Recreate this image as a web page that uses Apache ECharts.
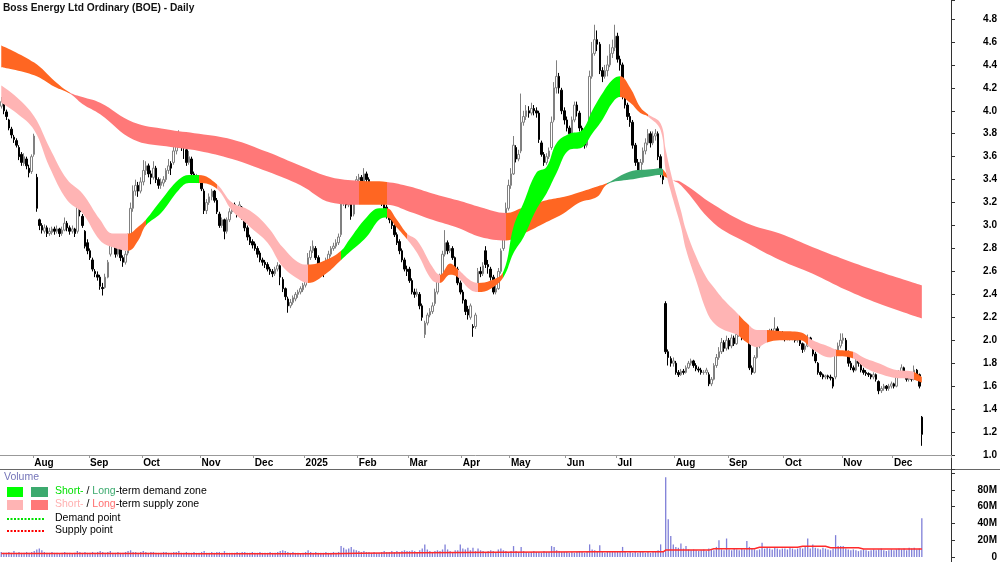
<!DOCTYPE html>
<html>
<head>
<meta charset="utf-8">
<script src="https://cdn.jsdelivr.net/npm/echarts@6/dist/echarts.min.js"></script>
<style>
html, body { margin: 0; padding: 0; background: #fff; }
#chart { width: 1000px; height: 562px; }
</style>
</head>
<body>
<div id="chart"></div>
<script>
// trading days (weekdays less ASX holidays), with some empty slots after the last bar
var holidays = ['2024-12-25', '2024-12-26', '2025-01-01', '2025-01-27', '2025-04-18', '2025-04-21',
    '2025-04-25', '2025-06-09', '2025-12-25', '2025-12-26', '2026-01-01'];
var slotCount = 375;
var dates = [];
(function () {
    var d = new Date(Date.UTC(2024, 6, 15));
    while (dates.length < slotCount) {
        var s = d.toISOString().slice(0, 10);
        var wd = d.getUTCDay();
        if (wd !== 0 && wd !== 6 && holidays.indexOf(s) < 0) dates.push(s);
        d.setUTCDate(d.getUTCDate() + 1);
    }
})();

var monthNames = ['Jan', 'Feb', 'Mar', 'Apr', 'May', 'Jun', 'Jul', 'Aug', 'Sep', 'Oct', 'Nov', 'Dec'];

// daily candles: [open, close, low, high]
var ohlc = [
    // Jul 2024
    [4.04,4.08,4.02,4.12],[4.06,4.00,3.97,4.07],[3.99,3.95,3.92,4.01],[3.92,3.85,3.83,3.93],[3.84,3.79,3.76,3.86],
    [3.77,3.75,3.72,3.79],[3.74,3.70,3.68,3.76],[3.68,3.60,3.57,3.70],[3.62,3.55,3.52,3.64],[3.54,3.60,3.52,3.63],
    [3.58,3.52,3.49,3.60],[3.50,3.46,3.42,3.53],[3.47,3.60,3.45,3.62],
    // Aug
    [3.62,3.78,3.60,3.80],[3.42,3.15,3.12,3.45],[3.05,3.00,2.96,3.06],[3.00,2.96,2.93,3.02],[2.95,2.98,2.93,3.01],
    [2.98,2.93,2.90,3.00],[2.93,2.95,2.91,2.98],[2.94,2.97,2.92,2.99],[2.97,2.95,2.92,2.99],[2.95,2.97,2.93,3.00],
    [2.97,2.93,2.90,2.98],[2.93,2.96,2.91,2.99],[2.96,3.02,2.95,3.07],[3.02,2.98,2.95,3.04],[2.98,2.95,2.92,3.00],
    [2.95,2.97,2.93,3.00],[2.97,2.93,2.90,2.98],[2.95,3.25,2.93,3.30],[3.20,3.12,3.08,3.25],[3.08,3.00,2.98,3.10],
    [2.95,2.82,2.80,2.96],[2.85,2.78,2.75,2.88],
    // Sep
    [2.78,2.72,2.70,2.80],[2.70,2.62,2.60,2.72],[2.60,2.58,2.55,2.62],[2.57,2.55,2.52,2.60],[2.55,2.47,2.44,2.57],
    [2.46,2.45,2.39,2.50],[2.46,2.55,2.45,2.58],[2.55,2.68,2.54,2.70],[2.75,2.90,2.73,2.93],[2.90,2.85,2.82,2.92],
    [2.85,2.75,2.72,2.87],[2.75,2.80,2.73,2.83],[2.80,2.72,2.69,2.82],[2.72,2.68,2.64,2.74],[2.68,2.75,2.66,2.78],
    [2.76,2.90,2.74,2.93],[2.92,3.15,2.90,3.20],[3.15,3.30,3.12,3.35],[3.30,3.35,3.26,3.40],[3.35,3.30,3.25,3.38],
    [3.30,3.38,3.28,3.42],
    // Oct
    [3.38,3.48,3.35,3.57],[3.48,3.52,3.44,3.56],[3.52,3.45,3.42,3.54],[3.45,3.42,3.36,3.48],[3.42,3.50,3.40,3.56],
    [3.50,3.40,3.37,3.52],[3.40,3.35,3.32,3.42],[3.35,3.38,3.32,3.41],[3.37,3.40,3.34,3.43],[3.40,3.48,3.38,3.50],
    [3.48,3.52,3.45,3.58],[3.54,3.50,3.44,3.56],[3.55,3.65,3.53,3.72],[3.65,3.70,3.62,3.74],[3.70,3.78,3.68,3.83],
    [3.76,3.70,3.65,3.78],[3.70,3.68,3.58,3.72],[3.66,3.55,3.52,3.68],[3.55,3.60,3.53,3.65],[3.58,3.45,3.42,3.60],
    [3.45,3.40,3.38,3.47],[3.40,3.42,3.37,3.45],[3.42,3.40,3.37,3.44],
    // Nov
    [3.40,3.32,3.30,3.42],[3.30,3.13,3.10,3.32],[3.13,3.20,3.10,3.23],[3.20,3.25,3.18,3.28],[3.25,3.30,3.22,3.32],
    [3.30,3.22,3.20,3.31],[3.22,3.12,3.10,3.24],[3.10,3.00,2.98,3.12],[3.00,3.05,2.98,3.07],[3.05,2.95,2.88,3.06],
    [2.95,3.05,2.93,3.07],[3.05,3.12,3.03,3.15],[3.12,3.18,3.10,3.20],[3.18,3.15,3.12,3.20],[3.15,3.10,3.07,3.17],
    [3.10,3.18,3.08,3.21],[3.16,3.08,3.05,3.17],[3.07,2.98,2.95,3.08],[2.98,2.90,2.87,3.00],[2.90,2.85,2.83,2.92],
    [2.86,2.83,2.80,2.88],
    // Dec
    [2.84,2.80,2.78,2.86],[2.80,2.75,2.72,2.82],[2.76,2.70,2.68,2.78],[2.70,2.68,2.65,2.72],[2.68,2.66,2.63,2.70],
    [2.66,2.62,2.60,2.68],[2.62,2.60,2.57,2.64],[2.60,2.58,2.55,2.62],[2.58,2.62,2.56,2.64],[2.62,2.65,2.60,2.68],
    [2.65,2.55,2.48,2.66],[2.53,2.45,2.42,2.55],[2.45,2.38,2.35,2.46],[2.36,2.30,2.24,2.38],[2.30,2.33,2.28,2.36],
    [2.33,2.37,2.31,2.39],[2.36,2.40,2.34,2.42],[2.40,2.42,2.37,2.44],[2.42,2.45,2.40,2.47],[2.44,2.48,2.42,2.50],
    // Jan 2025
    [2.48,2.52,2.46,2.55],[2.60,2.72,2.58,2.76],[2.72,2.78,2.70,2.82],[2.78,2.82,2.76,2.87],[2.80,2.72,2.70,2.82],
    [2.72,2.65,2.62,2.74],[2.65,2.62,2.58,2.67],[2.62,2.60,2.55,2.64],[2.60,2.70,2.58,2.72],[2.70,2.75,2.68,2.78],
    [2.75,2.80,2.73,2.82],[2.80,2.82,2.78,2.85],[2.82,2.85,2.80,2.88],[2.85,2.90,2.83,2.93],[2.92,3.20,2.90,3.24],
    [3.20,3.22,3.17,3.26],[3.22,3.18,3.15,3.24],[3.18,3.25,3.16,3.28],[3.22,3.08,3.05,3.24],[3.10,3.30,3.08,3.33],
    [3.30,3.40,3.28,3.43],
    // Feb
    [3.40,3.42,3.37,3.45],[3.42,3.38,3.35,3.44],[3.38,3.45,3.36,3.50],[3.45,3.40,3.37,3.47],[3.40,3.35,3.32,3.42],
    [3.35,3.30,3.27,3.37],[3.30,3.33,3.28,3.36],[3.33,3.28,3.25,3.35],[3.28,3.25,3.22,3.30],[3.26,3.20,3.17,3.28],
    [3.20,3.15,3.12,3.22],[3.16,3.10,3.06,3.18],[3.10,3.05,3.02,3.12],[3.05,3.00,2.97,3.07],[3.00,2.92,2.90,3.02],
    [2.92,2.85,2.83,2.94],[2.86,2.78,2.75,2.88],[2.78,2.70,2.68,2.80],[2.70,2.62,2.60,2.72],[2.62,2.60,2.56,2.65],
    // Mar
    [2.62,2.52,2.50,2.64],[2.52,2.42,2.40,2.54],[2.42,2.40,2.37,2.45],[2.40,2.42,2.38,2.45],[2.40,2.30,2.27,2.42],
    [2.30,2.20,2.17,2.32],[2.05,2.15,2.02,2.17],[2.15,2.22,2.13,2.24],[2.22,2.25,2.20,2.28],[2.25,2.30,2.23,2.33],
    [2.32,2.42,2.30,2.45],[2.42,2.52,2.40,2.55],[2.52,2.55,2.50,2.58],[2.56,2.75,2.55,2.78],[2.75,2.85,2.73,2.96],
    [2.85,2.78,2.75,2.87],[2.78,2.80,2.76,2.83],[2.80,2.72,2.70,2.82],[2.72,2.62,2.60,2.73],[2.62,2.50,2.48,2.64],
    [2.50,2.42,2.40,2.52],
    // Apr
    [2.42,2.35,2.32,2.44],[2.35,2.25,2.22,2.36],[2.27,2.22,2.18,2.30],[2.20,2.30,2.18,2.32],[2.12,2.11,2.03,2.14],
    [2.12,2.22,2.10,2.24],[2.45,2.60,2.43,2.63],[2.60,2.58,2.55,2.64],[2.58,2.65,2.56,2.68],[2.78,2.66,2.63,2.82],
    [2.66,2.64,2.58,2.70],[2.62,2.55,2.52,2.64],[2.55,2.42,2.40,2.57],[2.42,2.45,2.40,2.50],[2.45,2.60,2.44,2.63],
    [2.60,2.78,2.58,2.80],[2.80,3.00,2.78,3.02],[3.00,3.15,2.98,3.20],[3.15,3.35,3.13,3.40],
    // May
    [3.35,3.45,3.32,3.50],[3.45,3.70,3.44,3.78],[3.68,3.58,3.55,3.70],[3.58,3.62,3.56,3.66],[3.65,3.90,3.63,4.15],
    [3.90,3.95,3.87,4.00],[3.95,4.00,3.92,4.05],[4.00,3.98,3.94,4.04],[3.98,4.02,3.96,4.07],[4.02,4.00,3.96,4.05],
    [4.00,3.98,3.94,4.03],[3.98,3.75,3.72,4.00],[3.72,3.62,3.60,3.74],[3.62,3.55,3.52,3.64],[3.55,3.60,3.53,3.63],
    [3.60,3.65,3.58,3.68],[3.68,3.90,3.66,3.95],[3.92,4.20,3.90,4.25],[4.20,4.30,4.15,4.44],[4.30,4.20,4.15,4.33],
    [4.18,4.00,3.97,4.20],[4.00,3.92,3.88,4.03],
    // Jun
    [3.92,3.85,3.82,3.95],[3.85,3.80,3.77,3.87],[3.80,3.92,3.78,3.95],[3.92,4.05,3.90,4.08],[4.05,4.00,3.95,4.08],
    [3.98,3.85,3.82,4.00],[3.85,3.75,3.72,3.87],[3.75,3.70,3.67,3.78],[3.70,3.80,3.68,3.84],[3.82,4.30,3.80,4.35],
    [4.30,4.50,4.28,4.60],[4.50,4.62,4.48,4.75],[4.62,4.58,4.52,4.70],[4.58,4.35,4.32,4.60],[4.35,4.30,4.25,4.38],
    [4.30,4.35,4.28,4.40],[4.35,4.40,4.30,4.48],[4.40,4.50,4.38,4.58],[4.50,4.55,4.46,4.62],[4.55,4.65,4.52,4.75],
    // Jul
    [4.65,4.45,4.42,4.68],[4.45,4.40,4.35,4.48],[4.40,4.15,4.10,4.42],[4.15,4.05,4.02,4.18],[4.05,3.95,3.92,4.07],
    [3.95,3.90,3.86,3.98],[3.90,3.70,3.67,3.92],[3.70,3.55,3.52,3.72],[3.55,3.48,3.44,3.58],[3.48,3.55,3.46,3.58],
    [3.55,3.65,3.53,3.68],[3.65,3.72,3.62,3.76],[3.72,3.80,3.70,3.84],[3.80,3.72,3.68,3.82],[3.72,3.78,3.70,3.82],
    [3.78,3.80,3.74,3.84],[3.80,3.60,3.57,3.82],[3.60,3.45,3.42,3.62],[3.45,3.40,3.36,3.48],[2.32,1.90,1.88,2.34],
    [1.90,1.85,1.78,1.92],[1.84,1.80,1.77,1.86],[1.80,1.82,1.77,1.85],
    // Aug
    [1.80,1.72,1.70,1.82],[1.72,1.70,1.68,1.74],[1.70,1.73,1.69,1.75],[1.73,1.72,1.70,1.75],[1.72,1.76,1.71,1.78],
    [1.76,1.80,1.75,1.82],[1.80,1.82,1.78,1.84],[1.82,1.78,1.76,1.83],[1.78,1.75,1.73,1.80],[1.75,1.74,1.72,1.77],
    [1.74,1.72,1.70,1.76],[1.72,1.72,1.70,1.74],[1.72,1.74,1.70,1.76],[1.70,1.62,1.60,1.72],[1.62,1.66,1.60,1.68],
    [1.66,1.78,1.65,1.80],[1.78,1.85,1.76,1.88],[1.85,1.90,1.83,1.94],[1.90,1.98,1.88,2.02],[1.98,1.93,1.90,2.00],
    [1.93,2.00,1.91,2.04],
    // Sep
    [2.00,1.95,1.92,2.02],[1.95,2.02,1.93,2.05],[2.02,1.97,1.95,2.04],[1.97,2.05,1.96,2.10],[2.05,2.08,2.03,2.12],
    [2.08,2.02,2.00,2.10],[2.02,2.10,2.00,2.14],[2.10,2.08,2.05,2.12],[2.00,1.76,1.74,2.02],[1.76,1.72,1.70,1.78],
    [1.72,1.85,1.71,1.87],[1.85,1.95,1.84,1.98],[1.95,1.98,1.93,2.01],[1.98,2.00,1.96,2.03],[2.00,2.05,1.98,2.08],
    [2.05,2.03,2.00,2.07],[2.03,2.08,2.01,2.10],[2.08,2.06,2.03,2.10],[2.06,2.10,2.04,2.20],[2.10,2.05,2.02,2.12],
    [2.05,2.06,2.02,2.08],[2.06,2.04,2.01,2.08],
    // Oct
    [2.05,2.02,1.99,2.07],[2.02,2.04,2.00,2.06],[2.04,2.02,2.00,2.06],[2.02,2.03,2.00,2.05],[2.03,2.00,1.98,2.05],
    [2.00,2.02,1.98,2.04],[2.02,1.97,1.95,2.03],[1.97,1.92,1.89,1.98],[1.92,1.95,1.90,1.97],[1.95,2.02,1.94,2.05],
    [2.02,1.96,1.94,2.03],[1.96,1.88,1.86,1.97],[1.88,1.82,1.80,1.90],[1.80,1.72,1.70,1.81],[1.72,1.70,1.68,1.73],
    [1.70,1.68,1.66,1.71],[1.68,1.69,1.66,1.70],[1.69,1.68,1.66,1.70],[1.68,1.67,1.65,1.70],[1.67,1.60,1.58,1.68],
    [1.68,1.90,1.66,1.92],[1.90,1.95,1.88,1.98],[1.95,2.00,1.93,2.06],
    // Nov
    [2.00,2.02,1.97,2.06],[2.00,1.90,1.88,2.02],[1.90,1.80,1.77,1.91],[1.80,1.76,1.74,1.82],[1.76,1.74,1.72,1.78],
    [1.74,1.82,1.73,1.84],[1.82,1.80,1.77,1.84],[1.80,1.74,1.72,1.81],[1.74,1.72,1.70,1.76],[1.72,1.71,1.69,1.74],
    [1.71,1.70,1.68,1.72],[1.70,1.68,1.66,1.71],[1.68,1.70,1.66,1.72],[1.70,1.66,1.64,1.71],[1.64,1.56,1.53,1.65],
    [1.56,1.58,1.54,1.60],[1.58,1.60,1.56,1.62],[1.60,1.58,1.56,1.61],[1.58,1.60,1.56,1.62],[1.60,1.62,1.58,1.64],
    // Dec
    [1.62,1.60,1.58,1.63],[1.60,1.70,1.59,1.72],[1.70,1.72,1.68,1.74],[1.72,1.76,1.70,1.79],[1.76,1.70,1.68,1.77],
    [1.70,1.66,1.64,1.71],[1.66,1.68,1.64,1.70],[1.68,1.66,1.64,1.69],[1.66,1.74,1.65,1.78],[1.74,1.70,1.68,1.75],
    [1.70,1.60,1.58,1.71],[1.33,1.18,1.08,1.34]
];

// daily volume, millions of shares
var volume = [
    6,5,5,6,5,7,5,6,5,5,6,5,6,
    7,9,10,8,6,5,5,6,5,5,4,5,6,5,5,4,5,7,6,5,6,5,
    5,6,5,6,7,6,5,6,7,5,5,6,5,5,6,7,8,6,6,5,6,
    7,6,5,6,6,5,5,5,6,6,5,5,6,6,7,5,5,6,5,5,6,5,5,
    6,7,5,5,6,5,6,6,5,7,5,5,5,5,6,5,6,6,5,5,6,
    5,5,6,5,5,5,6,5,5,6,7,8,7,6,5,6,5,5,4,5,
    6,8,6,5,6,5,5,5,6,5,5,6,5,6,13,11,9,10,12,9,8,
    7,6,7,6,6,5,6,5,5,6,7,6,6,7,6,7,6,7,8,7,
    7,8,7,6,8,10,15,9,7,6,7,8,7,9,15,9,7,6,8,8,15,
    10,9,11,8,11,7,10,8,7,6,7,8,7,6,9,10,8,7,6,
    7,13,7,6,12,7,6,5,6,7,6,6,5,7,6,6,13,12,8,7,6,6,
    6,5,6,5,6,7,6,5,6,15,9,8,7,14,6,5,6,7,6,6,
    7,6,12,6,5,6,5,6,5,6,6,5,6,5,6,7,8,15,7,95,45,25,15,
    12,11,16,10,13,9,8,9,8,7,8,9,7,10,9,8,12,20,9,8,22,
    9,8,10,9,8,10,9,19,12,10,9,8,9,17,10,11,10,9,12,10,9,10,
    10,9,11,10,9,10,11,10,12,22,10,15,11,10,9,11,10,9,8,10,26,13,13,
    13,10,9,8,9,8,7,8,9,8,7,8,9,8,9,10,8,7,8,9,
    8,9,10,9,10,8,11,10,11,9,10,46
];

// volume average line (red), by bar index
var volAvgIdx = [0, 55, 79, 130, 141, 165, 197, 236, 261, 262, 279, 281, 297, 299, 314, 316, 325, 327, 338, 340, 363];
var volAvg    = [4.3, 4.3, 3.8, 3.8, 4.5, 5.0, 5.6, 6.2, 6.2, 8.2, 8.2, 9.9, 9.9, 11.5, 11.5, 12.7, 12.7, 11.0, 11.0, 9.4, 9.4];

// long-term zone edges, by bar index
var longIdx   = [0, 13, 21, 27, 32, 39, 52, 65, 78, 91, 105, 118, 130, 141, 152, 161, 170, 180, 189, 199,
    206, 215, 222, 228, 235, 239, 248, 256, 260, 262, 264, 268, 281, 294, 307, 320, 333, 346, 363];
var longUpper = [4.57, 4.42, 4.26, 4.16, 4.12, 4.07, 3.90, 3.84, 3.80, 3.75, 3.64, 3.52, 3.42, 3.39, 3.38, 3.34, 3.28, 3.22, 3.16, 3.11,
    3.16, 3.22, 3.25, 3.29, 3.34, 3.37, 3.47, 3.49, 3.50, 3.46, 3.40, 3.38, 3.18, 3.02, 2.93, 2.81, 2.70, 2.60, 2.48];
var longLower = [4.38, 4.31, 4.21, 4.15, 4.06, 3.97, 3.75, 3.69, 3.65, 3.58, 3.47, 3.35, 3.20, 3.18, 3.18, 3.12, 3.05, 2.98, 2.90, 2.87,
    2.93, 3.03, 3.11, 3.20, 3.25, 3.36, 3.40, 3.43, 3.44, 3.42, 3.40, 3.35, 3.02, 2.85, 2.70, 2.58, 2.44, 2.32, 2.19];

// short-term zone edges, by bar index
var shortIdx   = [0, 6, 13, 19, 26, 32, 39, 44, 50, 54, 57, 63, 70, 74, 78, 85, 91, 98, 105, 111,
    118, 121, 128, 134, 137, 144, 149, 152, 156, 160, 164, 170, 173, 177, 180, 185, 188, 193, 198, 202,
    206, 211, 215, 219, 224, 229, 233, 237, 241, 244, 248, 252, 255, 260, 262, 265, 268, 270, 274, 278,
    281, 285, 290, 294, 298, 302, 307, 315, 320, 327, 329, 336, 340, 346, 353, 359, 363];
var shortUpper = [4.22, 4.12, 3.95, 3.68, 3.40, 3.28, 3.05, 2.93, 2.93, 2.99, 3.05, 3.22, 3.40, 3.44, 3.44, 3.36, 3.20, 3.13, 2.99, 2.81,
    2.67, 2.66, 2.70, 2.78, 2.87, 3.07, 3.15, 3.15, 3.05, 2.93, 2.87, 2.64, 2.57, 2.67, 2.62, 2.52, 2.50, 2.52, 2.60, 2.99,
    3.20, 3.46, 3.51, 3.72, 3.80, 3.83, 4.00, 4.15, 4.27, 4.30, 4.20, 4.03, 3.97, 3.89, 3.66, 3.37, 3.13, 2.96, 2.73, 2.55,
    2.46, 2.35, 2.24, 2.15, 2.09, 2.09, 2.08, 2.07, 2.00, 1.94, 1.92, 1.90, 1.85, 1.80, 1.74, 1.73, 1.68];
var shortLower = [4.07, 3.98, 3.83, 3.51, 3.22, 3.11, 2.87, 2.81, 2.78, 2.87, 3.00, 3.11, 3.31, 3.37, 3.37, 3.32, 3.13, 2.99, 2.85, 2.64,
    2.52, 2.50, 2.58, 2.70, 2.76, 2.90, 3.05, 3.07, 2.98, 2.88, 2.76, 2.52, 2.50, 2.57, 2.55, 2.44, 2.42, 2.45, 2.55, 2.76,
    2.90, 3.14, 3.28, 3.46, 3.66, 3.68, 3.80, 3.92, 4.07, 4.12, 4.07, 3.98, 3.95, 3.83, 3.48, 3.22, 2.99, 2.79, 2.52, 2.26,
    2.15, 2.09, 2.05, 1.98, 1.94, 1.98, 2.00, 2.00, 1.92, 1.85, 1.86, 1.84, 1.77, 1.71, 1.67, 1.66, 1.63];

// zone state changes: [first bar index, state]
var longZones = [[0, 'mixed'], [27, 'supply'], [141, 'mixed'], [152, 'supply'], [199, 'mixed'],
    [239, 'demand'], [261, 'mixed'], [264, 'supply']];
var shortZones = [[0, 'supply'], [50, 'mixed'], [57, 'demand'], [78, 'mixed'], [85, 'supply'], [121, 'mixed'],
    [134, 'demand'], [152, 'mixed'], [160, 'supply'], [173, 'mixed'], [180, 'supply'], [188, 'mixed'],
    [198, 'demand'], [244, 'mixed'], [255, 'supply'], [291, 'mixed'], [295, 'supply'], [302, 'mixed'],
    [318, 'supply'], [329, 'mixed'], [336, 'supply'], [360, 'mixed']];

var longColors = { supply: '#ff7878', demand: '#3caa6e', mixed: '#ff6622' };
var shortColors = { supply: '#ffb4b4', demand: '#00ff00', mixed: '#ff6622' };

var FONT = '"Liberation Sans", Arial, sans-serif';
var LEG = '10.5px ' + FONT;

function pairs(idx, vals) {
    return idx.map(function (x, k) { return [x, vals[k]]; });
}
function widths(idx, up, lo) {
    return idx.map(function (x, k) { return [x, +(up[k] - lo[k]).toFixed(3)]; });
}
function pieces(zones, colors) {
    return zones.map(function (z, k) {
        var p = { gte: z[0], color: colors[z[1]] };
        if (k < zones.length - 1) p.lt = zones[k + 1][0];
        return p;
    });
}
function bandSeries(name, idx, up, lo) {
    return [{
        name: name + ' base', type: 'line', stack: name, data: pairs(idx, lo),
        smooth: 0.4, symbol: 'none', lineStyle: { width: 0, opacity: 0 }, silent: true
    }, {
        name: name, type: 'line', stack: name, data: widths(idx, up, lo),
        smooth: 0.4, symbol: 'none', lineStyle: { width: 0 }, areaStyle: { opacity: 1 }, silent: true
    }];
}
function isMonthStart(i) {
    return i > 0 && i < ohlc.length && dates[i].slice(5, 7) !== dates[i - 1].slice(5, 7);
}

var chart = echarts.init(document.getElementById('chart'));

var series = []
    .concat(bandSeries('long', longIdx, longUpper, longLower))
    .concat(bandSeries('short', shortIdx, shortUpper, shortLower));

series.push({
    name: 'price', type: 'candlestick', data: ohlc, barWidth: 2,
    itemStyle: { color: '#ffffff', color0: '#000000', borderColor: '#808080', borderColor0: '#000000', borderWidth: 1 }
});
series.push({
    name: 'volume', type: 'bar', xAxisIndex: 1, yAxisIndex: 1, data: volume,
    barWidth: 1.3, itemStyle: { color: '#7f7fd8' }
});
series.push({
    name: 'volume avg', type: 'line', xAxisIndex: 1, yAxisIndex: 1, data: pairs(volAvgIdx, volAvg),
    symbol: 'none', lineStyle: { color: '#ff2a2a', width: 1.5 }, z: 3
});

chart.setOption({
    animation: false,
    backgroundColor: '#ffffff',
    title: {
        text: 'Boss Energy Ltd Ordinary (BOE) - Daily',
        left: 3, top: 3, padding: 0,
        textStyle: { fontFamily: FONT, fontSize: 10.2, fontWeight: 'bold', color: '#111' }
    },
    grid: [
        { left: 0, right: 49, top: 0, height: 455 },
        { left: 0, right: 49, top: 469, height: 89 }
    ],
    xAxis: [{
        type: 'category', gridIndex: 0, data: dates, boundaryGap: true,
        axisLine: { lineStyle: { color: '#999', width: 1 } },
        axisTick: { show: true, length: 3, interval: isMonthStart, lineStyle: { color: '#999' } },
        axisLabel: {
            interval: isMonthStart, align: 'left', margin: 3,
            fontFamily: FONT, fontSize: 10, fontWeight: 'bold', color: '#000',
            formatter: function (v) {
                var m = +v.slice(5, 7) - 1;
                return m === 0 ? v.slice(0, 4) : monthNames[m];
            }
        },
        splitLine: { show: false }
    }, {
        type: 'category', gridIndex: 1, data: dates, boundaryGap: true, position: 'top',
        axisLine: { show: false }, axisTick: { show: false }, axisLabel: { show: false }, splitLine: { show: false }
    }],
    yAxis: [{
        type: 'value', gridIndex: 0, position: 'right',
        min: 1.0, max: 1 + 455 / 114.74, interval: 0.2,
        axisLine: { show: true, lineStyle: { color: '#333' } },
        axisTick: { show: true, length: 4, lineStyle: { color: '#333' } },
        splitLine: { show: false },
        axisLabel: {
            align: 'right', margin: 46, fontFamily: FONT, fontSize: 10, fontWeight: 'bold', color: '#000',
            formatter: function (v) { return v > 4.85 ? '' : v.toFixed(1); }
        }
    }, {
        type: 'value', gridIndex: 1, position: 'right',
        min: 0, max: 89 / 0.85, interval: 20,
        axisLine: { show: true, lineStyle: { color: '#333' } },
        axisTick: { show: true, length: 4, lineStyle: { color: '#333' } },
        splitLine: { show: false },
        axisLabel: {
            align: 'right', margin: 46, fontFamily: FONT, fontSize: 10, fontWeight: 'bold', color: '#000',
            formatter: function (v) { return v > 90 ? '' : (v === 0 ? '0' : v + 'M'); }
        }
    }],
    visualMap: [
        { type: 'piecewise', show: false, seriesIndex: 1, dimension: 0, pieces: pieces(longZones, longColors) },
        { type: 'piecewise', show: false, seriesIndex: 3, dimension: 0, pieces: pieces(shortZones, shortColors) }
    ],
    graphic: [
        // panel frame: right edge line and the divider above the volume panel
        { type: 'line', silent: true, shape: { x1: 951.5, y1: 0, x2: 951.5, y2: 562 }, style: { stroke: '#333', lineWidth: 1 } },
        { type: 'line', silent: true, shape: { x1: 0, y1: 469.5, x2: 1000, y2: 469.5 }, style: { stroke: '#666', lineWidth: 1 } },
        // legend
        { type: 'text', left: 4, top: 472, style: { text: 'Volume', fill: '#7474b8', font: LEG } },
        { type: 'rect', shape: { x: 7, y: 487, width: 16, height: 10 }, style: { fill: '#00ff00' } },
        { type: 'rect', shape: { x: 31, y: 487, width: 17, height: 10 }, style: { fill: '#3caa6e' } },
        { type: 'rect', shape: { x: 7, y: 500, width: 16, height: 10 }, style: { fill: '#ffb4b4' } },
        { type: 'rect', shape: { x: 31, y: 500, width: 17, height: 10 }, style: { fill: '#ff7878' } },
        {
            type: 'text', left: 55, top: 486,
            style: {
                text: '{g|Short-} / {d|Long}-term demand zone', fill: '#000', font: LEG,
                rich: { g: { fill: '#00e000', font: LEG }, d: { fill: '#3caa6e', font: LEG } }
            }
        },
        {
            type: 'text', left: 55, top: 499,
            style: {
                text: '{g|Short-} / {d|Long}-term supply zone', fill: '#000', font: LEG,
                rich: { g: { fill: '#ffb0b0', font: LEG }, d: { fill: '#ff6f6f', font: LEG } }
            }
        },
        { type: 'line', shape: { x1: 7, y1: 519, x2: 45, y2: 519 }, style: { stroke: '#00e000', lineWidth: 2, lineDash: [2, 1.5] } },
        { type: 'text', left: 55, top: 513, style: { text: 'Demand point', fill: '#000', font: LEG } },
        { type: 'line', shape: { x1: 7, y1: 531, x2: 45, y2: 531 }, style: { stroke: '#ff0000', lineWidth: 2, lineDash: [2, 1.5] } },
        { type: 'text', left: 55, top: 525, style: { text: 'Supply point', fill: '#000', font: LEG } }
    ],
    series: series
});
</script>
</body>
</html>
